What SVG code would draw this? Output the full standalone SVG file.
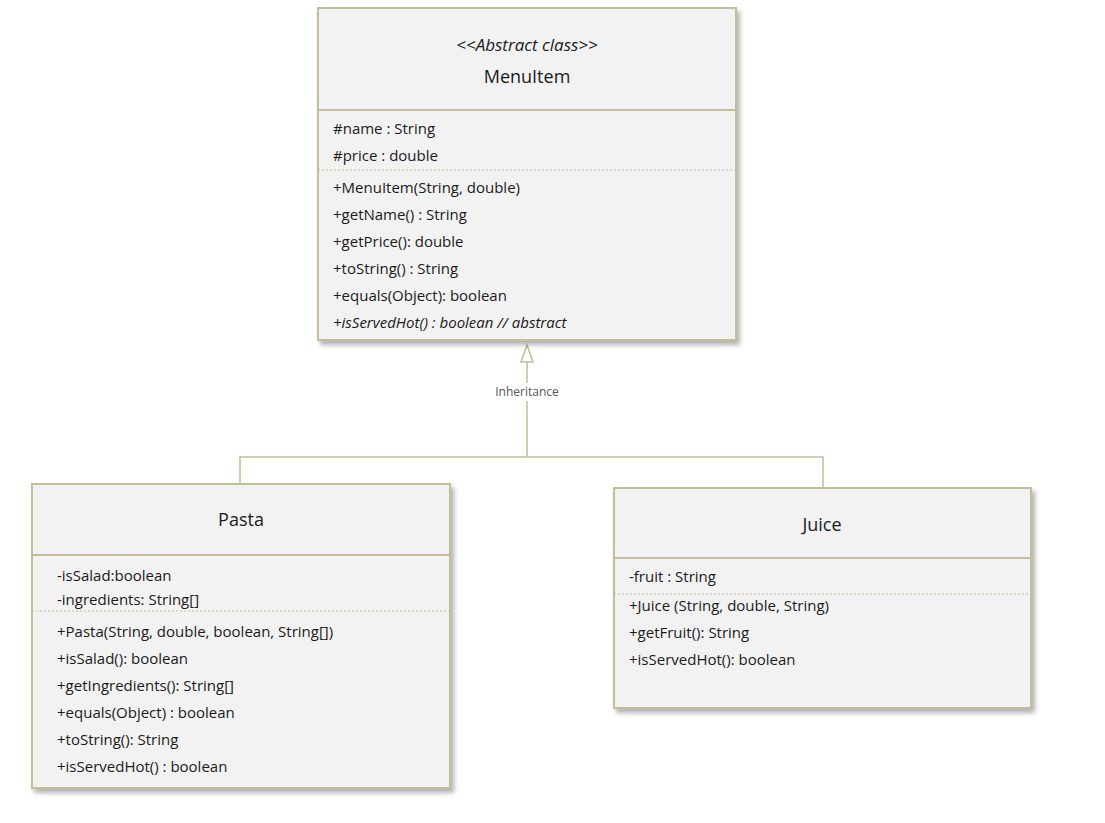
<svg xmlns="http://www.w3.org/2000/svg" width="1105" height="823" viewBox="0 0 1105 823">
<defs>
<filter id="sh" x="-5%" y="-5%" width="115%" height="115%"><feDropShadow dx="3" dy="4" stdDeviation="2.5" flood-color="#000" flood-opacity="0.3"/></filter>
<style>
.box{fill:#f2f2f2;stroke:#c4bd97;stroke-width:2}
.sep{stroke:#c4bd97;stroke-width:2}
.dot{stroke:#c4bd97;stroke-width:1.2;stroke-dasharray:2 2}
.t{font-family:"Open Sans","DejaVu Sans",sans-serif;font-size:15px;fill:#1a1a1a}
.h{font-family:"Open Sans","DejaVu Sans",sans-serif;font-size:18px;fill:#1a1a1a;text-anchor:middle}
.i{font-style:italic}
.c{fill:none;stroke:#c4bd97;stroke-width:1.5}
</style>
</defs>
<rect width="1105" height="823" fill="#fff"/>
<g id="connectors">
<path class="c" d="M527 362 V457 M240 484 V457 H823 V488"/>
<polygon points="527,345 521,362 533,362" fill="#fff" stroke="#c4bd97" stroke-width="1.5"/>
<rect x="484" y="383" width="86" height="18" fill="#fff"/>
<text x="527" y="396" text-anchor="middle" style="font-family:'Open Sans',sans-serif;font-size:12px;fill:#555">Inheritance</text>
</g>
<g id="MenuItem">
<rect class="box" x="318" y="8" width="418" height="332" filter="url(#sh)"/>
<line class="sep" x1="318" y1="110" x2="736" y2="110"/>
<line class="dot" x1="318" y1="170" x2="736" y2="170"/>
<text class="h i" x="527" y="51" style="font-size:17px">&lt;&lt;Abstract class&gt;&gt;</text>
<text class="h" x="527" y="83">MenuItem</text>
<text class="t" x="333" y="134">#name : String</text>
<text class="t" x="333" y="161">#price : double</text>
<text class="t" x="333" y="193">+MenuItem(String, double)</text>
<text class="t" x="333" y="220">+getName() : String</text>
<text class="t" x="333" y="247">+getPrice(): double</text>
<text class="t" x="333" y="274">+toString() : String</text>
<text class="t" x="333" y="301">+equals(Object): boolean</text>
<text class="t i" x="333" y="328">+isServedHot() : boolean // abstract</text>
</g>
<g id="Pasta">
<rect class="box" x="32" y="484" width="418" height="304" filter="url(#sh)"/>
<line class="sep" x1="32" y1="555" x2="450" y2="555"/>
<line class="dot" x1="32" y1="611" x2="450" y2="611"/>
<text class="h" x="241" y="526">Pasta</text>
<text class="t" x="57" y="581">-isSalad:boolean</text>
<text class="t" x="57" y="605">-ingredients: String[]</text>
<text class="t" x="57" y="637">+Pasta(String, double, boolean, String[])</text>
<text class="t" x="57" y="664">+isSalad(): boolean</text>
<text class="t" x="57" y="691">+getIngredients(): String[]</text>
<text class="t" x="57" y="718">+equals(Object) : boolean</text>
<text class="t" x="57" y="745">+toString(): String</text>
<text class="t" x="57" y="772">+isServedHot() : boolean</text>
</g>
<g id="Juice">
<rect class="box" x="614" y="488" width="417" height="220" filter="url(#sh)"/>
<line class="sep" x1="614" y1="558" x2="1031" y2="558"/>
<line class="dot" x1="614" y1="594" x2="1031" y2="594"/>
<text class="h" x="822" y="531">Juice</text>
<text class="t" x="629" y="582">-fruit : String</text>
<text class="t" x="629" y="611">+Juice (String, double, String)</text>
<text class="t" x="629" y="638">+getFruit(): String</text>
<text class="t" x="629" y="665">+isServedHot(): boolean</text>
</g>
</svg>
